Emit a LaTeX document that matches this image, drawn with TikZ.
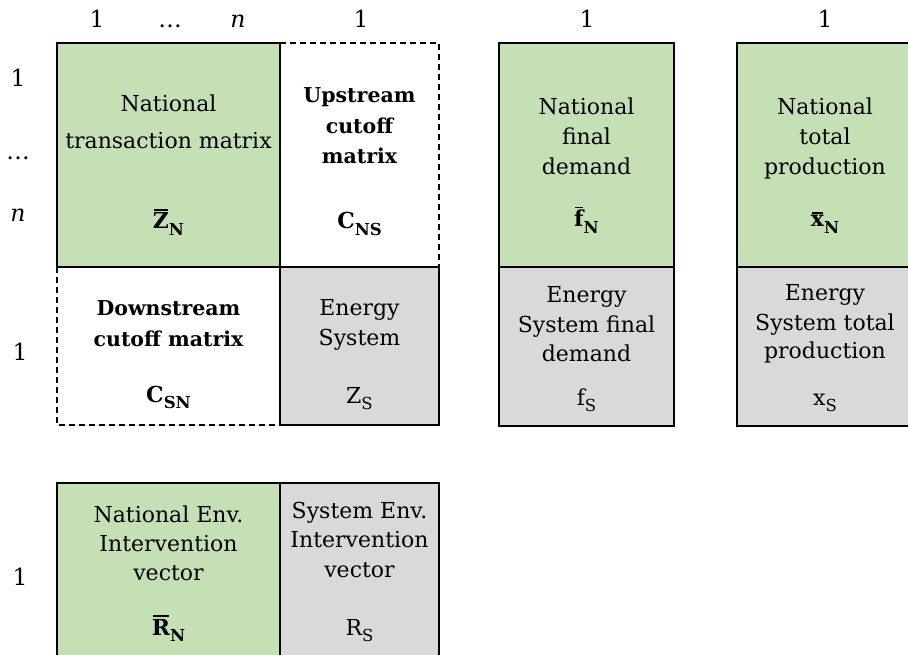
\documentclass[tikz,border=0pt]{standalone}
\usepackage[no-math]{fontspec}
\setmainfont{DejaVu Serif}
\definecolor{natgreen}{HTML}{C5E0B4}
\definecolor{sysgray}{HTML}{D9D9D9}
\newcommand{\subsym}[1]{\raisebox{-0.3em}{\fontsize{16.5}{16.5}\selectfont #1}}
\newcommand{\barsym}[1]{\setbox0\hbox{#1}\rlap{\hspace{1pt}\raisebox{\dimexpr\ht0+2pt\relax}{\rule{\dimexpr\wd0-2pt\relax}{1.6pt}}}\box0}
\tikzset{
  solidline/.style={draw=black, line width=1.8pt},
  dashline/.style={draw=black, line width=1.5pt, dash pattern=on 6pt off 4pt},
  txt/.style={font=\fontsize{22}{26}\selectfont, inner sep=0pt, anchor=base},
  btxt/.style={font=\fontsize{20.5}{24}\selectfont\bfseries, inner sep=0pt, anchor=base},
  sym/.style={font=\fontsize{22}{26}\selectfont, inner sep=0pt, anchor=base},
  idx/.style={font=\fontsize{23.5}{26}\selectfont, inner sep=0pt, anchor=base},
}
\begin{document}
\begin{tikzpicture}[x=1pt,y=-1pt]
\clip (0,0) rectangle (908,655);
% ---- main block
\fill[natgreen] (57,43) rectangle (280,267);
\fill[sysgray] (280,267) rectangle (439,425);
\draw[solidline] (57,43) rectangle (280,267);
\draw[solidline] (280,267) rectangle (439,425);
\draw[dashline] (280,43) -- (439,43) -- (439,267);
\draw[dashline] (57,267) -- (57,425) -- (280,425);
% ---- final demand
\fill[natgreen] (499,43) rectangle (674,267);
\fill[sysgray] (499,267) rectangle (674,426);
\draw[solidline] (499,43) rectangle (674,267);
\draw[solidline] (499,267) rectangle (674,426);
% ---- total production
\fill[natgreen] (737,43) rectangle (918,267);
\fill[sysgray] (737,267) rectangle (918,426);
\draw[solidline] (737,43) rectangle (918,267);
\draw[solidline] (737,267) rectangle (918,426);
% ---- intervention
\fill[natgreen] (57,483) rectangle (280,670);
\fill[sysgray] (280,483) rectangle (439,670);
\draw[solidline] (57,483) rectangle (280,670);
\draw[solidline] (280,483) rectangle (439,670);

% ---- column labels
\node[idx] (c1) at (97,28) {1};
\node[idx] (c2) at (170,28) {\ldots};
\node[idx] (c3) at (238,28) {\textit{n}};
\node[idx] (c4) at (361,28) {1};
\node[idx] (c5) at (587,28) {1};
\node[idx] (c6) at (825,28) {1};
% ---- row labels
\node[idx] (r1) at (18,87) {1};
\node[idx] (r2) at (18,160) {\ldots};
\node[idx] (r3) at (18,222) {\textit{n}};
\node[idx] (r4) at (20,360) {1};
\node[idx] (r5) at (20,585) {1};

% ---- national transaction matrix
\node[txt] (za) at (168.5,112) {National};
\node[txt] (zb) at (168.5,149) {transaction matrix};
\node[sym] (zs) at (168.5,229) {\textbf{\barsym{Z}\subsym{N}}};
% ---- upstream
\node[btxt] (ua) at (359.5,103) {Upstream};
\node[btxt] (ub) at (359.5,134) {cutoff};
\node[btxt] (uc) at (359.5,164) {matrix};
\node[sym] (us) at (359.5,229) {\textbf{C\subsym{NS}}};
% ---- downstream
\node[btxt] (da) at (168.5,316) {Downstream};
\node[btxt] (db) at (168.5,346) {cutoff matrix};
\node[sym] (ds) at (168.5,402) {\textbf{C\subsym{SN}}};
% ---- energy system
\node[txt] (ea) at (359.5,316) {Energy};
\node[txt] (eb) at (359.5,345) {System};
\node[sym] (es) at (359.5,403) {Z\subsym{S}};
% ---- final demand
\node[txt] (fa) at (586.5,115) {National};
\node[txt] (fb) at (586.5,145) {final};
\node[txt] (fc) at (586.5,175) {demand};
\node[sym] (fs) at (586.5,227) {\textbf{\barsym{f}\subsym{N}}};
\node[txt] (fd) at (586.5,302) {Energy};
\node[txt] (fe) at (586.5,332) {System final};
\node[txt] (ff) at (586.5,361) {demand};
\node[sym] (ft) at (586.5,405) {f\subsym{S}};
% ---- total production
\node[txt] (xa) at (825,115) {National};
\node[txt] (xb) at (825,145) {total};
\node[txt] (xc) at (825,175) {production};
\node[sym] (xs) at (825,227) {\textbf{\barsym{x}\subsym{N}}};
\node[txt] (xd) at (825,300) {Energy};
\node[txt] (xe) at (825,330) {System total};
\node[txt] (xf) at (825,358) {production};
\node[sym] (xt) at (825,405) {x\subsym{S}};
% ---- intervention vectors
\node[txt] (na) at (168.5,522) {National Env.};
\node[txt] (nb) at (168.5,551) {Intervention};
\node[txt] (nc) at (168.5,580) {vector};
\node[sym] (ns) at (168.5,635) {\textbf{\barsym{R}\subsym{N}}};
\node[txt] (sa) at (359.5,518) {System Env.};
\node[txt] (sb) at (359.5,547) {Intervention};
\node[txt] (sc) at (359.5,577) {vector};
\node[sym] (ss) at (359.5,635) {R\subsym{S}};
\end{tikzpicture}
\end{document}
